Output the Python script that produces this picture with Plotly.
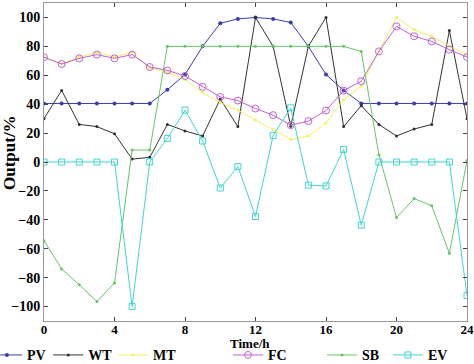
import plotly.graph_objects as go

hours = list(range(25))

pv = [40.5, 40.5, 40.5, 40.5, 40.5, 40.5, 40.5, 50, 60.5, 80, 96, 99, 100, 99, 96.5,
      80, 60.5, 49.5, 40.5, 40.5, 40.5, 40.5, 40.5, 40.5, 40.5]
wt = [30, 49.5, 26, 24.5, 19.5, 2, 3.2, 26, 21.5, 18, 43.5, 24.5, 100, 80, 24.8,
      80, 100, 24.5, 39, 26, 18, 22.8, 26, 91, 30]
mt = [73, 68, 72.5, 76, 72.5, 76, 65, 62.3, 57, 48, 41, 36, 29, 22.5, 15.6,
      18, 27, 43, 52.4, 76.5, 100, 91.5, 87, 80, 74]
fc = [72.4, 67.8, 71.7, 74.3, 71.7, 74.3, 65.7, 63.4, 59.5, 52, 45, 42.5, 37, 32.4, 25.5,
      28.3, 35.6, 49.4, 55.9, 76.5, 93.8, 87, 83.4, 77.7, 72.6]
sb = [-54.5, -74, -85, -96.5, -83.7, 8.3, 8.3, 80, 80, 80, 80, 80, 80, 80, 80,
      80, 80, 80, 76.5, 5, -38.4, -25.3, -30.3, -63.2, 1]
ev = [0, 0, 0, 0, 0, -100, 0, 16.3, 35.9, 14.5, -18, -3.2, -37.7, 18.4, 37.5,
      -16, -16.6, 8.7, -43.7, 0, 0, 0, 0, 0, -92.4]

x_ticks = [0, 4, 8, 12, 16, 20, 24]
y_ticks = [-100, -80, -60, -40, -20, 0, 20, 40, 60, 80, 100]

series = [
    ("PV", pv, "#3b3bb0", dict(symbol="circle", size=4)),
    ("WT", wt, "#333333", dict(symbol="circle", size=3)),
    ("MT", mt, "#f4f060", dict(symbol="circle", size=3)),
    ("FC", fc, "#c060d0", dict(symbol="circle-open", size=7, line=dict(width=1))),
    ("SB", sb, "#66c466", dict(symbol="circle", size=3)),
    ("EV", ev, "#40d4d4", dict(symbol="square-open", size=6, line=dict(width=1))),
]

legend_x = [-0.135, 0.01, 0.163, 0.435, 0.657, 0.813]

font = dict(family="Liberation Serif", size=14, color="black", weight="bold")
xfont = dict(family="Liberation Serif", size=13, color="black", weight="bold")
legfont = dict(family="Liberation Serif", size=14, color="black", weight="bold")
titlefont = dict(family="Liberation Serif", size=17, color="black", weight="bold")

fig = go.Figure()
layout_legends = {}
for i, ((name, vals, color, mk), lx) in enumerate(zip(series, legend_x)):
    key = "legend" if i == 0 else f"legend{i + 1}"
    mk = dict(mk, color=color)
    fig.add_trace(go.Scatter(x=hours, y=vals, name=name, mode="lines+markers",
                             line=dict(color=color, width=1), marker=mk,
                             legend=key))
    layout_legends[key] = dict(x=lx, xanchor="left", y=-0.108, yanchor="middle",
                               orientation="h", itemwidth=30, font=legfont,
                               bgcolor="rgba(0,0,0,0)", borderwidth=0)

fig.update_layout(
    width=474, height=364,
    margin=dict(l=44, r=7, t=3, b=43, autoexpand=False),
    paper_bgcolor="white", plot_bgcolor="white",
    font=font,
    showlegend=True,
    xaxis=dict(range=[0, 24], tickvals=x_ticks, ticks="inside", ticklen=4,
               showline=True, linecolor="#999999", linewidth=1, mirror="ticks",
               showgrid=False, zeroline=False, tickfont=xfont, ticklabelstandoff=-4),
    yaxis=dict(range=[-110, 110], tickvals=y_ticks, ticks="inside", ticklen=4,
               showline=True, linecolor="#999999", linewidth=1, mirror="ticks",
               showgrid=False, zeroline=False, tickfont=font),
    annotations=[
        dict(text="Time/h", xref="paper", yref="paper", x=0.487, y=-0.072,
             xanchor="center", yanchor="middle", showarrow=False, font=xfont),
        dict(text="Output/%", xref="paper", yref="paper", x=-0.083, y=0.531,
             xanchor="center", yanchor="middle", textangle=-90, showarrow=False,
             font=titlefont),
    ],
    **layout_legends,
)

fig.write_html("out.html", config={"displayModeBar": False},
               post_script="document.body.style.margin='0px';"
                           "document.body.style.overflow='hidden';")
